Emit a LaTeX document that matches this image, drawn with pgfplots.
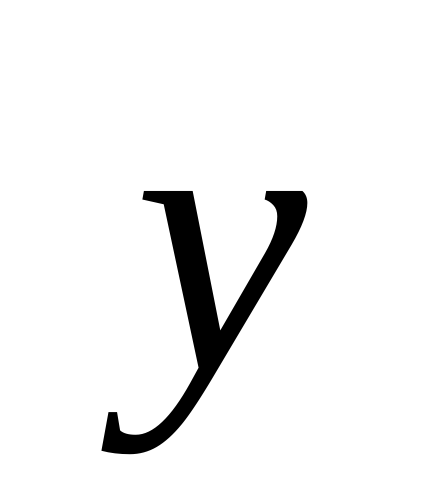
\documentclass[border=0pt]{standalone}
\usepackage{pgfplots}
\pgfplotsset{compat=1.18}
\usepackage{fontspec}
\setmainfont{Liberation Serif}
\begin{document}
\begin{tikzpicture}
\path[use as bounding box] (0,0) rectangle (4.43cm,4.99cm);
\begin{axis}[
  scale only axis, width=4.43cm, height=4.99cm,
  xmin=0, xmax=443, ymin=0, ymax=499,
  hide axis, clip=false]
\addplot[draw=none, forget plot] coordinates {(0,0) (443,499)};
\node[inner sep=0pt, anchor=center] at (axis cs:221,175.5)
  {\fontsize{111pt}{111pt}\selectfont\itshape y};
\end{axis}
\end{tikzpicture}
\end{document}
